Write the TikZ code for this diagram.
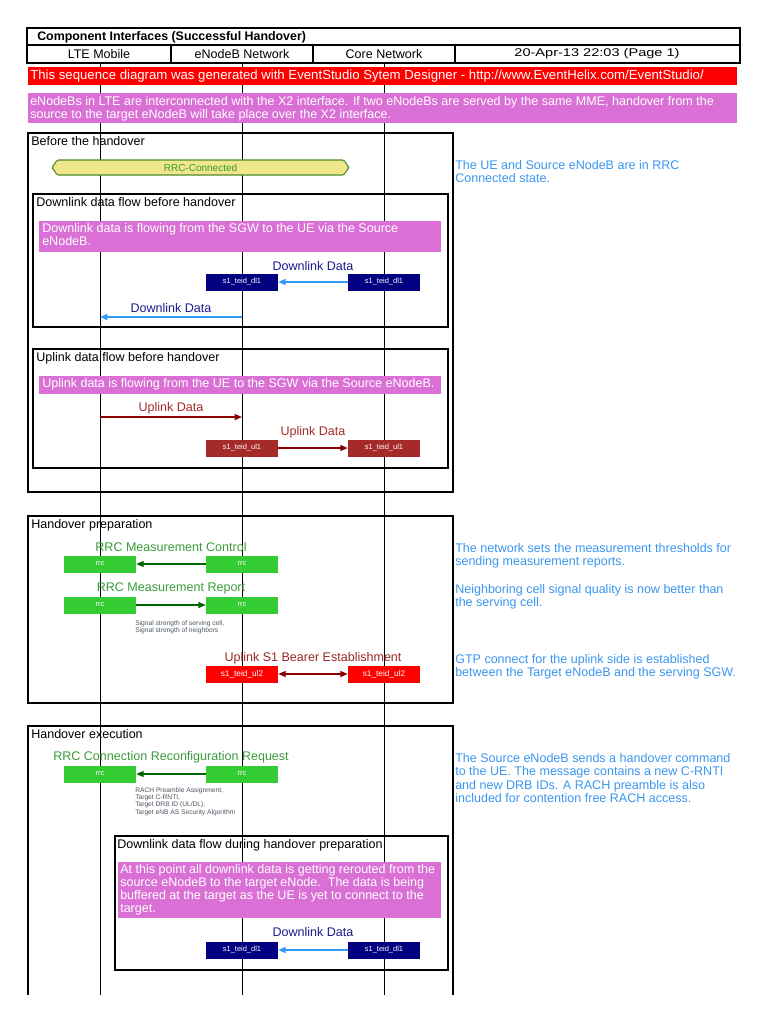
\documentclass[tikz,border=0pt]{standalone}
\usepackage{fontspec}
\setmainfont{Liberation Sans}
\usetikzlibrary{positioning,arrows.meta,shapes.symbols}
\definecolor{evviolet}{HTML}{DA70D6}
\definecolor{evred}{HTML}{FF0000}
\definecolor{evnavy}{HTML}{000080}
\definecolor{evsky}{HTML}{3399FF}
\definecolor{evlabel}{HTML}{1A1A90}
\definecolor{evbrown}{HTML}{A52A2A}
\definecolor{evdarkred}{HTML}{8B0000}
\definecolor{evlime}{HTML}{33CC33}
\definecolor{evgreen}{HTML}{3A9A3A}
\definecolor{evdarkgreen}{HTML}{006400}
\definecolor{evnote}{HTML}{3A96F0}
\definecolor{evgray}{HTML}{4A5560}
\definecolor{evkhaki}{HTML}{F0E68C}
\definecolor{evolive}{HTML}{4C8C2A}

\begin{document}
\begin{tikzpicture}[
x=0.75pt, y=-0.75pt,
font=\fontsize{9.4}{9.8}\selectfont,
frame/.style={draw, line width=1.1pt},
lifeline/.style={draw, line width=0.6pt},
title/.style={anchor=north west, inner sep=0pt},
violet/.style={anchor=north west, inner sep=0pt, align=left, text=white},
tid/.style={minimum width=54pt, minimum height=12.75pt, inner sep=0pt, text=white, font=\fontsize{5.6}{6}\selectfont},
msg/.style={-{Triangle[length=5.5pt,width=4.5pt]}, line width=1pt},
note/.style={anchor=north west, inner sep=0pt, align=left, text=evnote, font=\fontsize{9.4}{10}\selectfont},
params/.style={anchor=north west, inner sep=0pt, align=left, text=evgray, font=\fontsize{5}{5.5}\selectfont}
]
\useasboundingbox (0,0) rectangle (768,1024);

% header
\draw[frame] (27,28) rectangle (740,63);
\draw[frame] (27,45) -- (740,45);
\foreach \cx in {171,313,455} \draw[line width=0.8pt] (\cx,45) -- (\cx,63);
\node[title, font=\bfseries\fontsize{9.3}{10}\selectfont] (hdr) at (37,31) {Component Interfaces (Successful Handover)};
\node (colUE) at (99,54) {LTE Mobile};
\node (colENB) at (242,54) {eNodeB Network};
\node (colCore) at (384,54) {Core Network};
\node[font=\fontsize{8.4}{9}\selectfont] (date) at (597,54) {\scalebox{1.3}[1]{20-Apr-13 22:03 (Page 1)}};

% lifelines
\coordinate (ueTop) at (100,63);   \coordinate (ueBot) at (100,995);
\coordinate (enbTop) at (242,63);  \coordinate (enbBot) at (242,995);
\coordinate (coreTop) at (384,63); \coordinate (coreBot) at (384,995);
\draw[lifeline] (ueTop) -- (ueBot);
\draw[lifeline] (enbTop) -- (enbBot);
\draw[lifeline] (coreTop) -- (coreBot);

% banners
\fill[evred] (28,67) rectangle (737,85);
\node[anchor=west, inner sep=0pt, text=white, font=\fontsize{9.9}{10}\selectfont] (gen) at (30,76) {This sequence diagram was generated with EventStudio Sytem Designer - http://www.EventHelix.com/EventStudio/};
\fill[evviolet] (28,93) rectangle (737,123);
\node[violet] (x2note) at (30,96) {eNodeBs in LTE are interconnected with the X2 interface. If two eNodeBs are served by the same MME, handover from the\\source to the target eNodeB will take place over the X2 interface.};

% before the handover
\draw[frame] (28,133) rectangle (453,492);
\node[title] (tBefore) at (31,136) {Before the handover};
\node[signal, signal to=east and west, signal pointer angle=110, draw=evolive, fill=evkhaki, text=evgreen, line width=0.8pt, rounded corners=1pt,
  minimum width=222.75pt, minimum height=11.25pt, inner sep=0pt, font=\fontsize{7.5}{8}\selectfont] (rrcconn) at (200.5,167.5) {RRC-Connected};
\node[note] (nConn) at (455,160) {The UE and Source eNodeB are in RRC\\Connected state.};

\draw[frame] (33,194) rectangle (448,327);
\node[title] (tDlBefore) at (36,197) {Downlink data flow before handover};
\fill[evviolet] (39,221) rectangle (441,252);
\node[violet] (vDlBefore) at (42,223) {Downlink data is flowing from the SGW to the UE via the Source\\eNodeB.};
\node[tid, fill=evnavy] (dlEnb) at (242,282) {s1\_teid\_dl1};
\node[tid, fill=evnavy] (dlCore) at (384,282) {s1\_teid\_dl1};
\draw[msg, evsky] (dlCore) -- node[midway, yshift=12pt, text=evlabel]{Downlink Data} (dlEnb);
\coordinate (dlSrc) at (242,317);
\coordinate (dlUE) at (100,317);
\draw[msg, evsky] (dlSrc) -- node[midway, yshift=6.75pt, text=evlabel]{Downlink Data} (dlUE);

\draw[frame] (33,349) rectangle (448,468);
\node[title] (tUlBefore) at (36,352) {Uplink data flow before handover};
\fill[evviolet] (39,376) rectangle (441,394);
\node[violet] (vUlBefore) at (42,378.5) {Uplink data is flowing from the UE to the SGW via the Source eNodeB.};
\coordinate (ulUE) at (100,417);
\coordinate (ulEnb) at (242,417);
\draw[msg, evdarkred] (ulUE) -- node[midway, yshift=6.75pt, text=evbrown]{Uplink Data} (ulEnb);
\node[tid, fill=evbrown] (ulEnbBox) at (242,448) {s1\_teid\_ul1};
\node[tid, fill=evbrown] (ulCoreBox) at (384,448) {s1\_teid\_ul1};
\draw[msg, evdarkred] (ulEnbBox) -- node[midway, yshift=12pt, text=evbrown]{Uplink Data} (ulCoreBox);

% handover preparation
\draw[frame] (28,516) rectangle (453,703);
\node[title] (tPrep) at (31,519) {Handover preparation};
\node[tid, fill=evlime] (mcUE) at (100,564) {rrc};
\node[tid, fill=evlime] (mcEnb) at (242,564) {rrc};
\draw[msg, evdarkgreen] (mcEnb) -- node[midway, yshift=12.75pt, text=evgreen]{RRC Measurement Control} (mcUE);
\node[note] (nCtrl) at (455,543) {The network sets the measurement thresholds for\\sending measurement reports.};
\node[tid, fill=evlime] (mrUE) at (100,605) {rrc};
\node[tid, fill=evlime] (mrEnb) at (242,605) {rrc};
\draw[msg, evdarkgreen] (mrUE) -- node[midway, yshift=12.75pt, text=evgreen]{RRC Measurement Report} (mrEnb);
\node[params] (pReport) at (135,620) {Signal strength of serving cell,\\Signal strength of neighbors};
\node[note] (nReport) at (455,584) {Neighboring cell signal quality is now better than\\the serving cell.};
\node[tid, fill=evred, font=\fontsize{6.2}{7}\selectfont] (s1Enb) at (242,674) {s1\_teid\_ul2};
\node[tid, fill=evred, font=\fontsize{6.2}{7}\selectfont] (s1Core) at (384,674) {s1\_teid\_ul2};
\draw[{Triangle[length=5.5pt,width=4.5pt]}-{Triangle[length=5.5pt,width=4.5pt]}, line width=0.8pt, evdarkred] (s1Enb) -- node[midway, yshift=12pt, text=evdarkred!85]{Uplink S1 Bearer Establishment} (s1Core);
\node[note] (nGtp) at (455,654) {GTP connect for the uplink side is established\\between the Target eNodeB and the serving SGW.};

% handover execution
\draw[frame] (28,995) -- (28,726) -- (453,726) -- (453,995);
\node[title] (tExec) at (31,729) {Handover execution};
\node[tid, fill=evlime] (rcUE) at (100,774) {rrc};
\node[tid, fill=evlime] (rcEnb) at (242,774) {rrc};
\draw[msg, evdarkgreen] (rcEnb) -- node[midway, yshift=12.75pt, text=evgreen]{RRC Connection Reconfiguration Request} (rcUE);
\node[params] (pReconf) at (135,787) {RACH Preamble Assignment,\\Target C-RNTI,\\Target DRB ID (UL/DL),\\Target eNB AS Security Algorithm};
\node[note] (nExec) at (455,753) {The Source eNodeB sends a handover command\\to the UE. The message contains a new C-RNTI\\and new DRB IDs. A RACH preamble is also\\included for contention free RACH access.};

\draw[frame] (115,836) rectangle (448,970);
\node[title] (tDlDuring) at (117,839) {Downlink data flow during handover preparation};
\fill[evviolet] (118,862) rectangle (441,918);
\node[violet] (vDlDuring) at (120,864) {At this point all downlink data is getting rerouted from the\\source eNodeB to the target eNode.\ \ The data is being\\buffered at the target as the UE is yet to connect to the\\target.};
\node[tid, fill=evnavy] (ddEnb) at (242,950) {s1\_teid\_dl1};
\node[tid, fill=evnavy] (ddCore) at (384,950) {s1\_teid\_dl1};
\draw[msg, evsky] (ddCore) -- node[midway, yshift=13.5pt, text=evlabel]{Downlink Data} (ddEnb);
\end{tikzpicture}
\end{document}
